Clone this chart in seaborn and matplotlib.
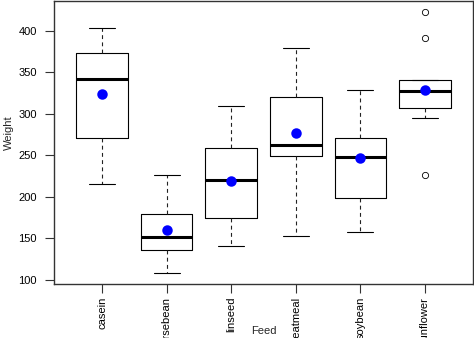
import numpy as np
import pandas as pd
import matplotlib
matplotlib.use("Agg")
import matplotlib.pyplot as plt
import seaborn as sns

# Chick weights (grams) by feed supplement
feeds = ["casein", "horsebean", "linseed", "meatmeal", "soybean", "sunflower"]
casein = [368, 390, 379, 260, 404, 318, 352, 359, 216, 222, 283, 332]
horsebean = [179, 160, 136, 227, 217, 168, 108, 124, 143, 140]
linseed = [309, 229, 181, 141, 260, 203, 148, 169, 213, 257, 244, 271]
meatmeal = [325, 257, 303, 315, 380, 153, 263, 242, 206, 344, 258]
soybean = [243, 230, 248, 327, 329, 250, 193, 271, 316, 267, 199, 171, 158, 248]
sunflower = [423, 340, 392, 339, 341, 226, 320, 295, 334, 322, 297, 318]
y_ticks = [100, 150, 200, 250, 300, 350, 400]

groups = [casein, horsebean, linseed, meatmeal, soybean, sunflower]
df = pd.DataFrame({
    "Feed": np.repeat(feeds, [len(g) for g in groups]),
    "Weight": np.concatenate(groups),
})

sns.set_style("ticks")
plt.rcParams["font.family"] = ["Liberation Sans", "DejaVu Sans"]
plt.rcParams["font.size"] = 8


def tukey_stats(values, label):
    """Five-number summary with Tukey hinges and 1.5*IQR whiskers."""
    v = np.sort(np.asarray(values, dtype=float))
    n = len(v)
    med = np.median(v)
    half = (n + 1) // 2
    lo_half, hi_half = v[:half], v[n - half:]
    q1, q3 = np.median(lo_half), np.median(hi_half)
    iqr = q3 - q1
    lo_f, hi_f = q1 - 1.5 * iqr, q3 + 1.5 * iqr
    inside = v[(v >= lo_f) & (v <= hi_f)]
    return dict(label=label, med=med, q1=q1, q3=q3,
                whislo=inside.min(), whishi=inside.max(),
                fliers=v[(v < lo_f) | (v > hi_f)])


stats = [tukey_stats(g, f) for g, f in zip(groups, feeds)]

fig = plt.figure(figsize=(4.74, 3.38), dpi=100)
ax = fig.add_axes([54.2 / 474, 1 - 283.8 / 338, 418.6 / 474, 282.4 / 338])

ax.bxp(
    stats, positions=range(len(feeds)), widths=0.8, capwidths=0.4,
    boxprops=dict(color="black", linewidth=0.8),
    whiskerprops=dict(color="#222222", linewidth=0.8, linestyle=(0, (3.5, 3))),
    capprops=dict(color="black", linewidth=0.8),
    medianprops=dict(color="black", linewidth=2.2, solid_capstyle="butt"),
    flierprops=dict(marker="o", markerfacecolor="none", markeredgecolor="black",
                    markersize=4.5, markeredgewidth=0.6),
    manage_ticks=False,
)

# Group means as filled blue dots
sns.pointplot(data=df, x="Feed", y="Weight", order=feeds, estimator="mean",
              errorbar=None, linestyle="none", marker="o", color="#0000ff",
              markersize=5.5, ax=ax, zorder=5)

ax.set_xlim(-0.74, 5.74)
ax.set_ylim(95.4, 435.6)
ax.set_xticks(range(len(feeds)))
ax.set_xticklabels(feeds, rotation=90, ha="center", va="top")
ax.set_yticks(y_ticks)
ax.set_yticklabels([str(t) for t in y_ticks])
ax.tick_params(axis="both", direction="out", length=6.5, width=0.8,
               color="#333333", labelsize=8, labelcolor="black")
ax.tick_params(axis="x", pad=3)
ax.tick_params(axis="y", pad=6)

for side in ["top", "right", "bottom", "left"]:
    ax.spines[side].set_visible(True)
    ax.spines[side].set_color("#333333")
    ax.spines[side].set_linewidth(1.0)

ax.set_xlabel("Feed", fontsize=8)
ax.set_ylabel("Weight", fontsize=8)
ax.xaxis.set_label_coords(0.5, (283.8 - 331) / 282.4)
ax.xaxis.label.set_va("center")
ax.yaxis.set_label_coords((9 - 54.2) / 418.6, (283.8 - 133) / 282.4)
ax.yaxis.label.set_va("center")

fig.savefig("out.png", dpi=100)
